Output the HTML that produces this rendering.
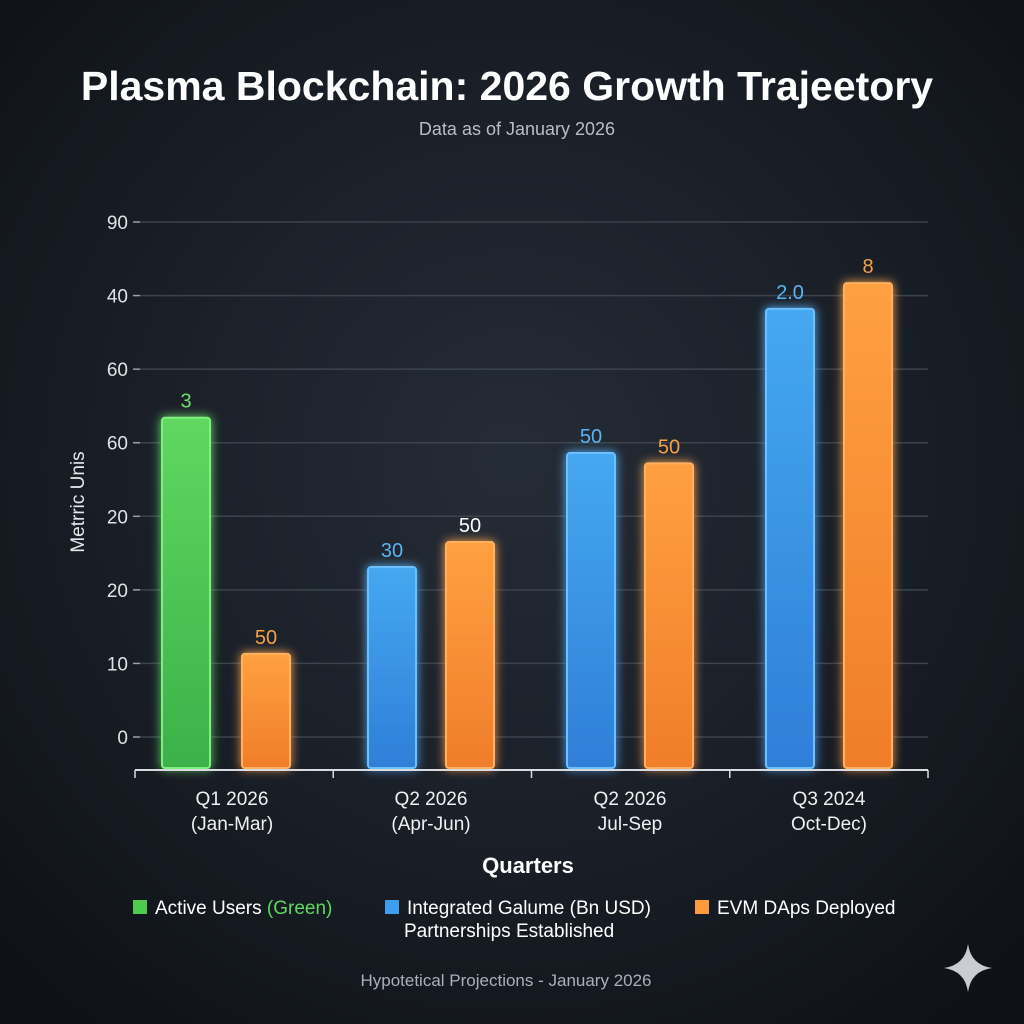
<!DOCTYPE html>
<html><head><meta charset="utf-8"><style>
html,body{margin:0;padding:0;width:1024px;height:1024px;overflow:hidden;background:#12161d;}
svg{display:block;font-family:"Liberation Sans",sans-serif;}
</style></head><body>
<svg id="chart" width="1024" height="1024" viewBox="0 0 1024 1024">
<defs>
<radialGradient id="bg" cx="50%" cy="45%" r="70%">
<stop offset="0" stop-color="#252c36"/><stop offset="0.6" stop-color="#181d25"/><stop offset="1" stop-color="#0e1116"/>
</radialGradient>
<linearGradient id="gG" x1="0" y1="0" x2="0" y2="1"><stop offset="0" stop-color="#5fd85f"/><stop offset="1" stop-color="#3bb14a"/></linearGradient>
<linearGradient id="gB" x1="0" y1="0" x2="0" y2="1"><stop offset="0" stop-color="#45a8f0"/><stop offset="1" stop-color="#2f7ed8"/></linearGradient>
<linearGradient id="gO" x1="0" y1="0" x2="0" y2="1"><stop offset="0" stop-color="#ffa040"/><stop offset="1" stop-color="#f07d2a"/></linearGradient>
<filter id="glow" x="-50%" y="-20%" width="200%" height="140%"><feGaussianBlur stdDeviation="5" result="b"/><feMerge><feMergeNode in="b"/><feMergeNode in="SourceGraphic"/></feMerge></filter>
</defs>
<rect width="1024" height="1024" fill="url(#bg)"/>
<text x="507" y="100" text-anchor="middle" fill="#fff" font-size="41" font-weight="bold">Plasma Blockchain: 2026 Growth Trajeetory</text>
<text x="517" y="135" text-anchor="middle" fill="#b8bec6" font-size="18">Data as of January 2026</text>
<g id="grid"></g>
<g id="bars"></g>
<line x1="135" y1="770" x2="928" y2="770" stroke="#d8dce0" stroke-width="2"/>
<text transform="translate(84,502) rotate(-90)" text-anchor="middle" fill="#e6e8ea" font-size="19">Metrric Unis</text>
<text x="528" y="873" text-anchor="middle" fill="#fff" font-size="22" font-weight="bold">Quarters</text>
<g>
<g><rect x="133" y="900" width="14" height="14" fill="#4ccb4c"/><text x="155" y="914" fill="#fff" font-size="19">Active Users <tspan fill="#5fd85f">(Green)</tspan></text></g>
<g><rect x="385" y="900" width="14" height="14" fill="#3d9ff0"/><text x="407" y="914" fill="#fff" font-size="19">Integrated Galume (Bn USD)</text><text x="404" y="937" fill="#fff" font-size="19">Partnerships Established</text></g>
<g><rect x="695" y="900" width="14" height="14" fill="#ff9a3c"/><text x="717" y="914" fill="#fff" font-size="19">EVM DAps Deployed</text></g>
</g>
<text x="506" y="986" text-anchor="middle" fill="#aab0b8" font-size="17">Hypotetical Projections - January 2026</text>
<path d="M968 944 Q971 965 992 968 Q971 971 968 992 Q965 971 944 968 Q965 965 968 944Z" fill="#c9ccd0"/>
</svg>
<script>
const tickLabels=["0","10","20","20","60","60","40","90"];
const categories=["Q1 2026|(Jan-Mar)","Q2 2026|(Apr-Jun)","Q2 2026|Jul-Sep","Q3 2024|Oct-Dec)"];
const blueValues=[null,23.1,38.6,58.2];
const orangeValues=[11.3,26.5,37.2,61.7];
const greenValues=[43.4,null,null,null];
const greenLabels=["3","","",""];
const blueLabels=["","30","50","2.0"];
const orangeLabels=["50","50","50","8"];

const NS="http://www.w3.org/2000/svg";
function y(v){return 737-v*7.357;}
function catX(i){return 232+i*199;}
function mk(tag,attrs,parent){const e=document.createElementNS(NS,tag);for(const k in attrs)e.setAttribute(k,attrs[k]);parent.appendChild(e);return e;}
const grid=document.getElementById('grid'),bars=document.getElementById('bars');
tickLabels.forEach((t,i)=>{
  const gy=y(i*10);
  const l=mk('line',{x1:140,x2:928,y1:gy,y2:gy,stroke:'#3c434d','stroke-width':1.5},grid);
  
  
  const tk=mk('line',{x1:133,x2:140,y1:gy,y2:gy,stroke:'#9aa0a8','stroke-width':1.5},grid);
  
  
  const tx=mk('text',{x:128,y:gy+7,'text-anchor':'end',fill:'#e0e3e6','font-size':19},grid);
  tx.textContent=t;
  
  
});
for(let i=0;i<=4;i++){
  const tk=mk('line',{x1:135+i*198.25,x2:135+i*198.25,y1:770,y2:778,stroke:'#d8dce0','stroke-width':1.5},grid);
  
  
}
categories.forEach((c,i)=>{
  const [a,b]=c.split('|');
  const t1=mk('text',{x:catX(i),y:805,'text-anchor':'middle',fill:'#eef0f2','font-size':19},grid);t1.textContent=a;
  
  
  const t2=mk('text',{x:catX(i),y:830,'text-anchor':'middle',fill:'#eef0f2','font-size':19},grid);t2.textContent=b;
  
  
});
function bar(v,x,fill,stroke,lab,labCol,name){
  if(v==null)return;
  const r=mk('rect',{x:x,y:y(v),width:48,height:768-y(v),rx:3,fill:fill,stroke:stroke,'stroke-width':2,filter:'url(#glow)'},bars);
  
  
  if(lab){const t=mk('text',{x:x+24,y:y(v)-10,'text-anchor':'middle',fill:labCol,'font-size':20},bars);t.textContent=lab;
  
  }
}
categories.forEach((c,i)=>{
  const cx=catX(i);
  bar(greenValues[i],cx-70,'url(#gG)','#7ef07e',greenLabels[i],'#6ee06e','bar-active-users');
  bar(blueValues[i],cx-63,'url(#gB)','#6cc0ff',blueLabels[i],'#5ab4f5','bar-integrated-volume');
  bar(orangeValues[i],cx+10+(i==0?0:5),'url(#gO)','#ffb060',orangeLabels[i],i==1?'#ffffff':'#f7a046','bar-evm-dapps');
});
</script>
</body></html>
